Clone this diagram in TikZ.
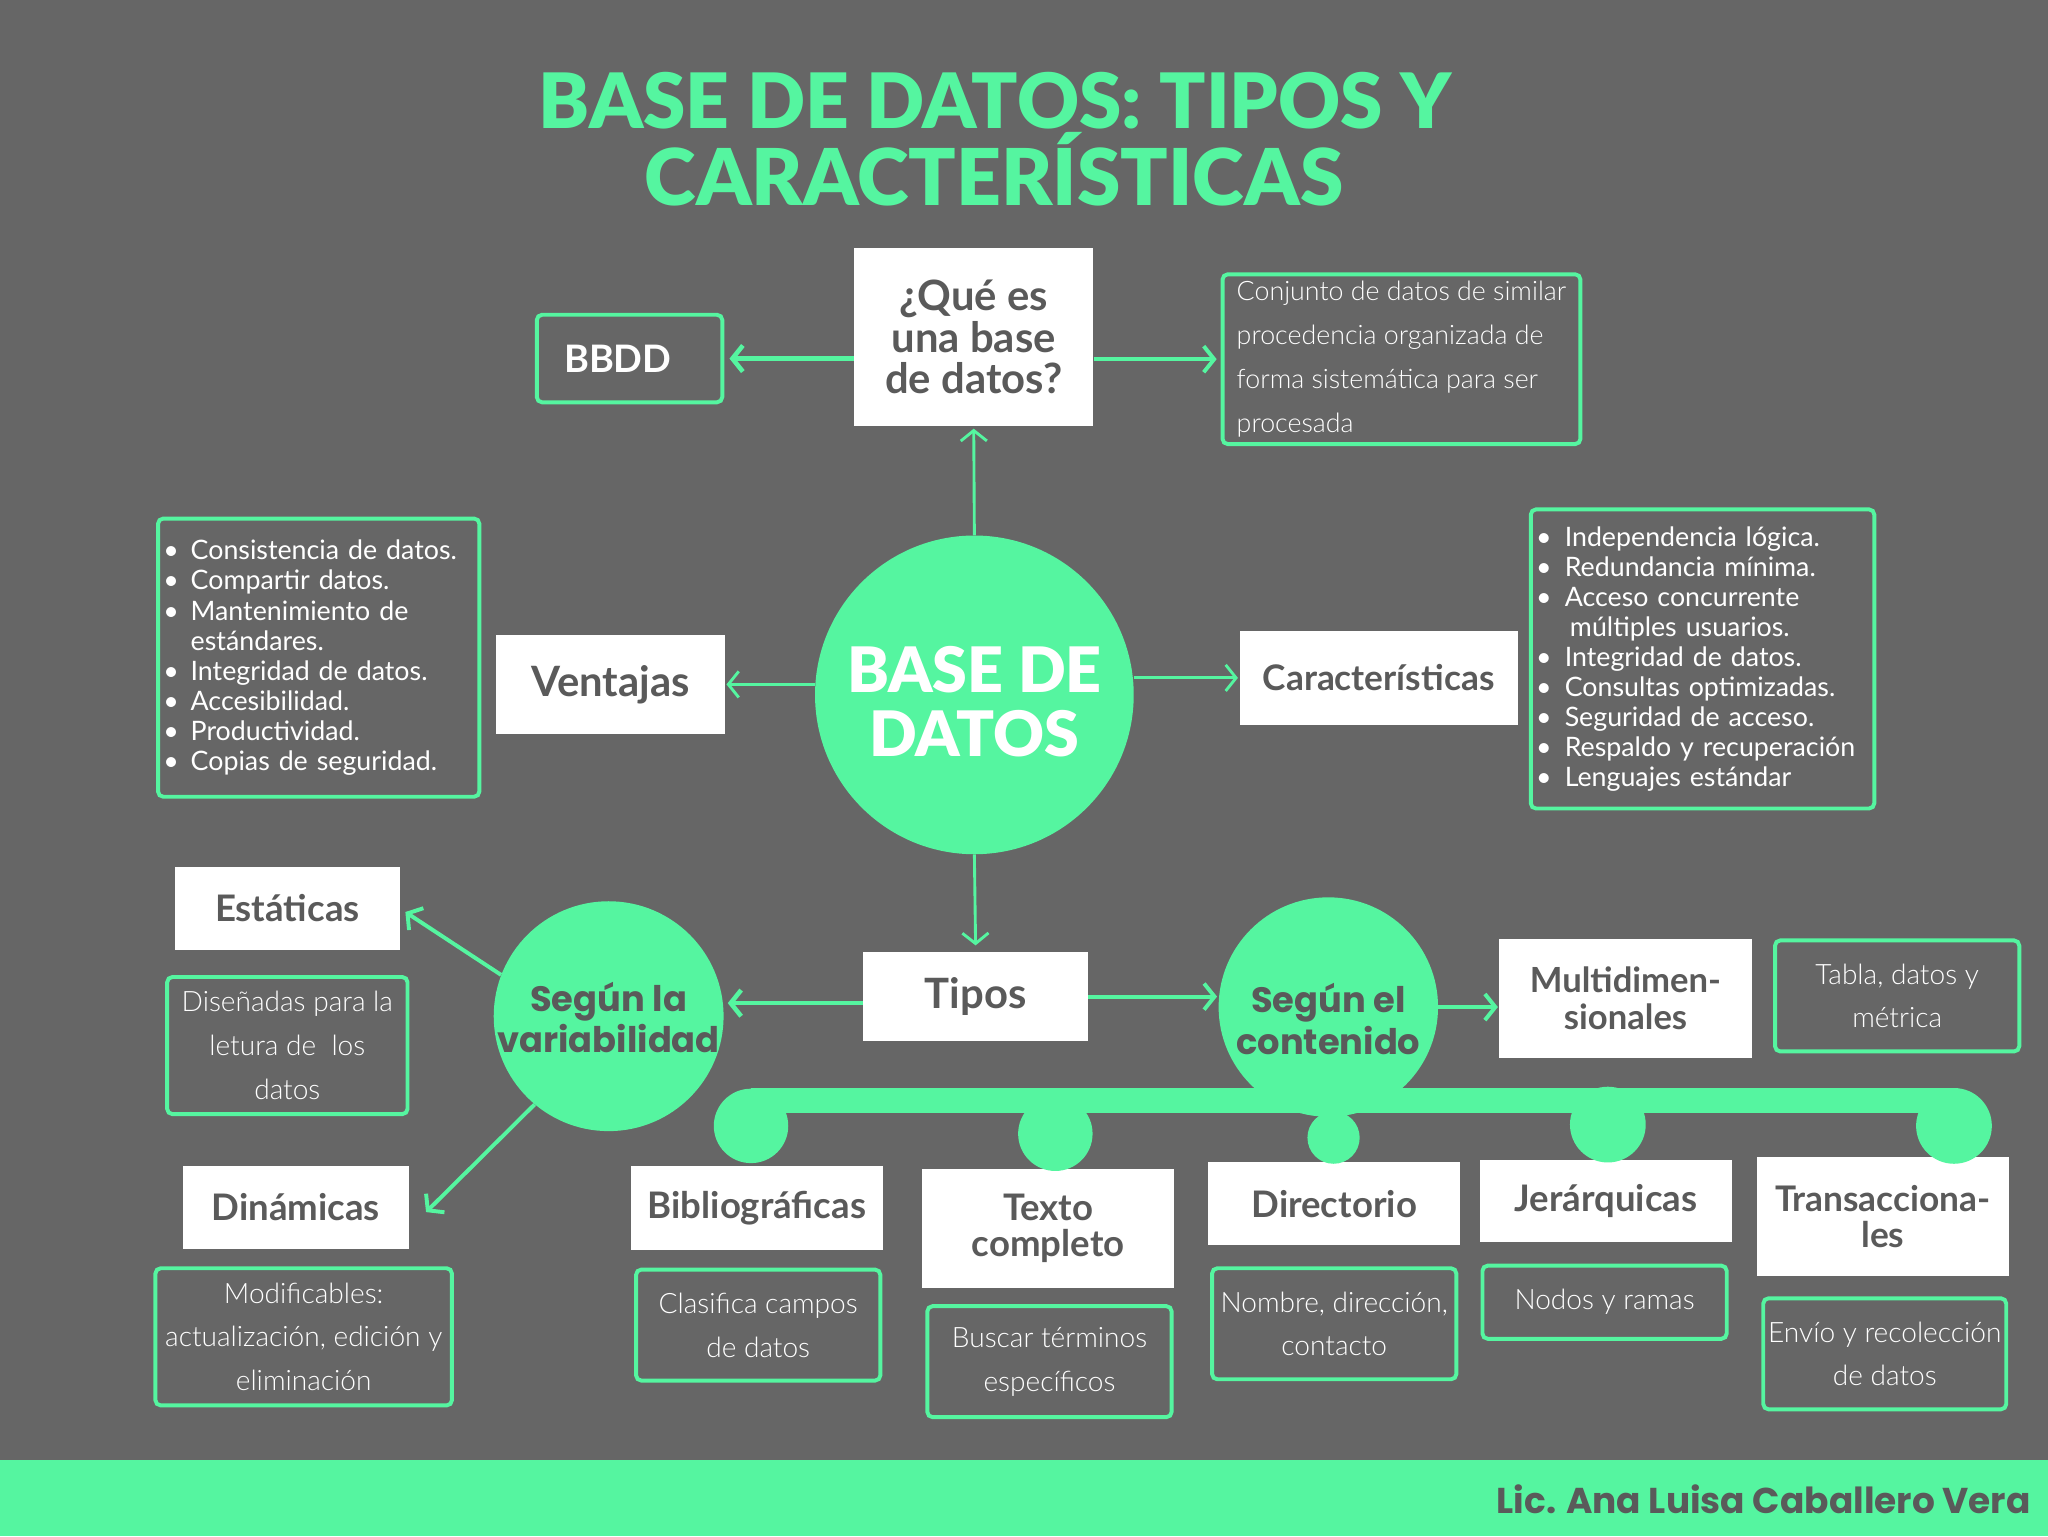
\documentclass[tikz,border=0pt]{standalone}
\usepackage{fontspec}
\usetikzlibrary{arrows.meta,calc}
\setmainfont{Lato}
\IfFontExistsTF{Lato Light}{\newfontfamily\light{Lato Light}}{\newfontfamily\light{Lato}}
\IfFontExistsTF{Lato Black}{\newfontfamily\heavy{Lato Black}}{\newcommand\heavy{\bfseries}}
\newfontfamily\pop{Poppins}
\definecolor{bgc}{HTML}{666666}
\definecolor{grn}{HTML}{55F5A0}
\definecolor{dk}{HTML}{5A5A5A}
\newcommand\bl{\makebox[21pt][l]{\textbullet}}
\newcommand\blb{\makebox[22pt][l]{\textbullet}}
\tikzset{
  wbox/.style={fill=white, text=dk, font=\bfseries\fontsize{28}{28}\selectfont, align=center, inner sep=0pt},
  gbox/.style={draw=grn, line width=3pt, rounded corners=4pt, text=white, font=\light\fontsize{21.5}{33.5}\selectfont, align=center, inner sep=0pt},
  bigc/.style={circle, fill=grn, inner sep=0pt},
  ctext/.style={text=dk, font=\pop\bfseries\fontsize{27}{32}\selectfont, align=center, inner sep=0pt},
  arr/.style={draw=grn, line width=3pt, -{Straight Barb[length=8pt,width=20pt]}},
  thinarr/.style={arr, line width=2.2pt},
}
\begin{document}
\begin{tikzpicture}[x=1pt,y=-1pt]
\fill[bgc] (0,0) rectangle (1568,1176);
\useasboundingbox (0,0) rectangle (1568,1176);
\fill[grn] (0,1118) rectangle (1568,1176);

% title
\node[font=\heavy\fontsize{58.5}{60}\selectfont, text=grn, anchor=base, inner sep=0pt] (t1) at (762,98) {BASE DE DATOS: TIPOS Y};
\node[font=\heavy\fontsize{60}{60}\selectfont, text=grn, anchor=base, inner sep=0pt] (t2) at (761,157) {CARACTERÍSTICAS};

% top part
\node[wbox, minimum width=183pt, minimum height=136pt, font=\bfseries\fontsize{32}{32}\selectfont] (qbox) at (745.5,258) {¿Qué es\\una base\\de datos?};
\node[gbox, minimum width=142pt, minimum height=67pt, font=\bfseries\fontsize{29}{30}\selectfont] (bbdd) at (482,274.5) {BBDD\hspace*{18pt}};
\node[gbox, minimum width=274pt, minimum height=130pt, align=left, font=\light\fontsize{20.5}{33.5}\selectfont] (def) at (1073,275) {Conjunto de datos de similar\\procedencia organizada de\\forma sistemática para ser\\procesada\hspace*{160pt}};

% center
\node[bigc, minimum size=244pt] (cen) at (746,532) {};
\node[text=white, font=\heavy\fontsize{48}{49}\selectfont, align=center, inner sep=0pt] (centxt) at ([yshift=-5pt]cen.center) {BASE DE\\DATOS};

\node[wbox, minimum width=175pt, minimum height=76pt, font=\bfseries\fontsize{32}{32}\selectfont] (vent) at (467.5,524) {Ventajas};
\node[gbox, minimum width=246pt, minimum height=213pt, text width=238pt, align=left, font=\fontsize{20.5}{23}\selectfont] (vlist) at (244,503.5) {\bl Consistencia de datos.\\\bl Compartir datos.\\\bl Mantenimiento de\\\hspace*{21pt}estándares.\\\bl Integridad de datos.\\\bl Accesibilidad.\\\bl Productividad.\\\bl Copias de seguridad.};

\node[wbox, minimum width=213pt, minimum height=72pt, font=\bfseries\fontsize{27}{28}\selectfont] (car) at (1055.5,519) {Características};
\node[gbox, minimum width=263pt, minimum height=229pt, text width=255pt, align=left, font=\fontsize{20.5}{23}\selectfont] (clist) at (1303.5,504.5) {\blb Independencia lógica.\\\blb Redundancia mínima.\\\blb Acceso concurrente\\\hspace*{26pt}múltiples usuarios.\\\blb Integridad de datos.\\\blb Consultas optimizadas.\\\blb Seguridad de acceso.\\\blb Respaldo y recuperación\\\blb Lenguajes estándar};

\node[wbox, minimum width=172pt, minimum height=68pt, font=\bfseries\fontsize{32}{32}\selectfont] (tipos) at (747,763) {Tipos};

% variabilidad
\node[bigc, minimum size=176pt] (var) at (466,778) {};
\node[ctext] (vartxt) at ([yshift=-1pt]var.center) {Según la\\variabilidad};
\node[wbox, minimum width=172pt, minimum height=63pt] (est) at (220,695.5) {Estáticas};
\node[gbox, minimum width=184pt, minimum height=105pt] (dis) at (220,800.5) {Diseñadas para la\\letura de\ \ los\\datos};
\node[wbox, minimum width=173pt, minimum height=63pt] (din) at (226.5,924.5) {Dinámicas};
\node[gbox, minimum width=227pt, minimum height=105pt] (mod) at (232.5,1023.5) {Modificables:\\actualización, edición y\\eliminación};
\coordinate (dinend) at ([xshift=13pt,yshift=-3.5pt]din.east);

% contenido
\node[bigc, minimum size=168pt] (cont) at (1017,771) {};
\node[ctext] (conttxt) at ([yshift=-9pt]cont.center) {Según el\\contenido};
\node[wbox, minimum width=193pt, minimum height=91pt, font=\bfseries\fontsize{26.5}{28}\selectfont] (multi) at (1244.5,764.5) {Multidimen-\\sionales};
\node[gbox, minimum width=187pt, minimum height=85pt] (tabla) at (1452.5,762.5) {Tabla, datos y\\métrica};

\node[wbox, minimum width=193pt, minimum height=64pt] (bib) at (579.5,925) {Bibliográficas};
\node[wbox, minimum width=193pt, minimum height=91pt] (texto) at (802.5,940.5) {Texto\\completo};
\node[wbox, minimum width=193pt, minimum height=63pt] (dir) at (1021.5,921.5) {Directorio};
\node[wbox, minimum width=193pt, minimum height=63pt] (jer) at (1229.5,919.5) {Jerárquicas};
\node[wbox, minimum width=193pt, minimum height=91pt, font=\bfseries\fontsize{27}{28}\selectfont] (trans) at (1441.5,931.5) {Transacciona-\\les};

\node[gbox, minimum width=187pt, minimum height=85pt] (clas) at (580.5,1014.5) {Clasifica campos\\de datos};
\node[gbox, minimum width=187pt, minimum height=85pt] (busc) at (803.5,1042.5) {Buscar términos\\específicos};
\node[gbox, minimum width=187pt, minimum height=85pt] (nom) at (1021.5,1013.5) {Nombre, dirección,\\contacto};
\node[gbox, minimum width=187pt, minimum height=56pt] (nod) at (1228.5,997) {Nodos y ramas};
\node[gbox, minimum width=186pt, minimum height=85pt] (env) at (1443,1036.5) {Envío y recolección\\de datos};

% bar with drops
\fill[grn] (575,833) rectangle (1496,852);
\fill[grn] (575,862) circle[radius=28.5pt];
\fill[grn] (808,868) circle[radius=28.5pt];
\fill[grn] (1021,871) circle[radius=20pt];
\fill[grn] (1231,861) circle[radius=29pt];
\fill[grn] (1496,862) circle[radius=29pt];

% arrows
\draw[arr, line width=3.5pt, shorten >=4pt] (qbox.west |- bbdd.east) -- (bbdd.east);
\draw[arr, shorten >=3pt] (qbox.east |- def.west) -- (def.west);
\draw[thinarr, shorten >=2pt] (cen.north) -- (qbox.south);
\draw[thinarr, shorten >=1pt] (cen.west |- vent.east) -- (vent.east);
\draw[thinarr, shorten >=1pt] (cen.east |- car.west) -- (car.west);
\draw[thinarr, shorten >=5pt] (cen.south) -- (tipos.north);
\draw[arr, line width=3.5pt, shorten >=3pt] ([yshift=-5pt]tipos.west) -- ([yshift=-5pt]tipos.west -| var.east);
\draw[arr, shorten >=1pt] (tipos.east) -- (tipos.east -| cont.west);
\draw[arr, shorten >=1pt] (cont.east) -- (cont.east -| multi.west);
\draw[arr, shorten >=5pt] (var.159) -- (est.east);
\draw[arr] (var.230) -- (dinend);

% footer
\node[font=\pop\bfseries\fontsize{27.5}{28}\selectfont, text=dk, anchor=east, inner sep=0pt] (auth) at (1555,1148) {Lic. Ana Luisa Caballero Vera};
\end{tikzpicture}
\end{document}
